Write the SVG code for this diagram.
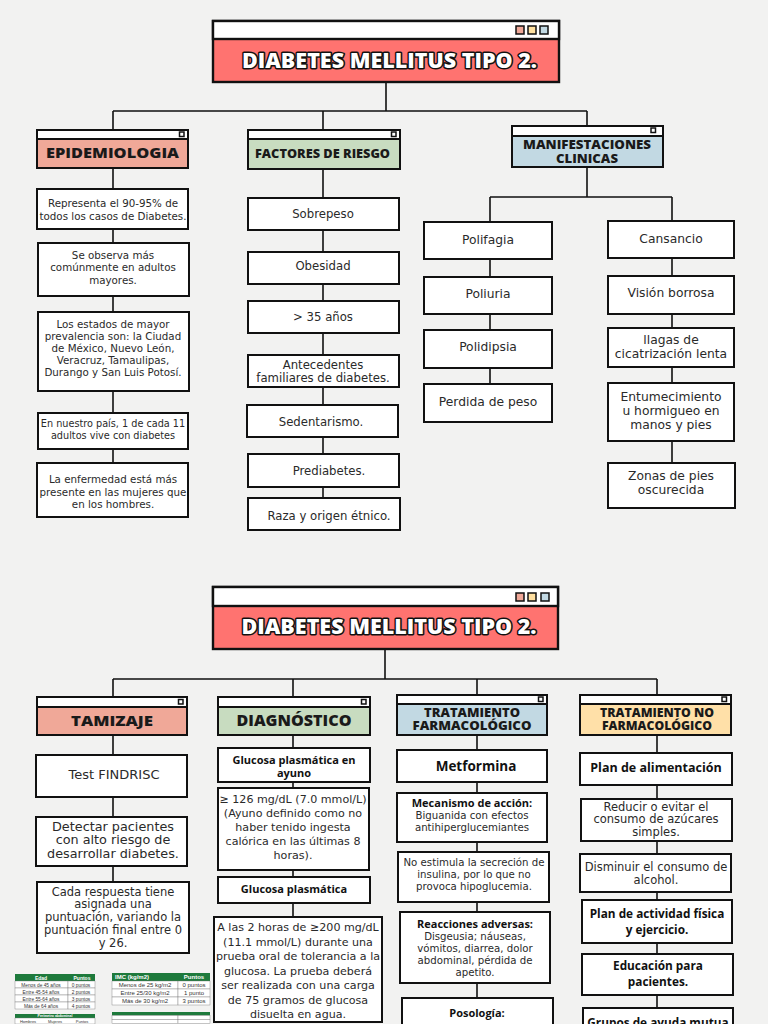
<svg xmlns="http://www.w3.org/2000/svg" width="768" height="1024" viewBox="0 0 768 1024">
<defs>
<style>
.bg{fill:#f2f2f1}
.b{fill:#fff;stroke:#111;stroke-width:2}
.hb{stroke:#111;stroke-width:2}
.sq{fill:#fff;stroke:#111;stroke-width:1.5}
.c{fill:none;stroke:#111;stroke-width:1.6}
.t{font-family:"DejaVu Sans","Liberation Sans",sans-serif;fill:#2a2a2a;text-anchor:middle}
.bd{font-family:"Open Sans","Liberation Sans",sans-serif;font-weight:700;fill:#111}
.h{font-family:"Open Sans","Liberation Sans",sans-serif;font-weight:800;fill:#1a1a1a;text-anchor:middle}
.title{font-family:"Open Sans","Liberation Sans",sans-serif;font-weight:800;font-size:21px;fill:#fff;stroke:#111;stroke-width:3;paint-order:stroke;stroke-linejoin:round;text-anchor:middle}
.tt{font-family:"Liberation Sans",sans-serif;fill:#333;text-anchor:middle}
.th{font-family:"Liberation Sans",sans-serif;font-weight:700;fill:#fff;text-anchor:middle}
.tb{fill:#fff;stroke:#777;stroke-width:0.4}
</style>
</defs>
<rect class="bg" x="0" y="0" width="768" height="1024"/>

<g id="connectors">
<path class="c" d="M386 82V111M113 111H587M113 111V130M323 111V130M587 111V126"/>
<path class="c" d="M113 168V463"/>
<path class="c" d="M323 169V498"/>
<path class="c" d="M587 167V197M490 197H672M490 197V384M672 197V463"/>
<path class="c" d="M385 649V679M113 679H657M113 679V882M293 679V917M477 679V998M657 679V1008"/>
</g>

<g id="title1">
<rect x="213" y="21" width="346" height="61" fill="#ff7370" stroke="#111" stroke-width="2.4"/>
<rect x="213" y="21" width="346" height="18" fill="#fff" stroke="#111" stroke-width="2.4"/>
<rect x="516" y="26" width="8" height="8" fill="#f0a898" stroke="#111" stroke-width="1.5"/>
<rect x="528" y="26" width="8" height="8" fill="#ffe0a0" stroke="#111" stroke-width="1.5"/>
<rect x="540" y="26" width="8" height="8" fill="#c2d9e3" stroke="#111" stroke-width="1.5"/>
<text class="title" x="389.5" y="68" textLength="295" lengthAdjust="spacingAndGlyphs">DIABETES MELLITUS TIPO 2.</text>
</g>

<g id="epidemiologia">
<rect class="hb" x="37" y="130" width="151" height="38" fill="#f0a898"/>
<rect class="hb" x="37" y="130" width="151" height="9" fill="#fff"/>
<rect class="sq" x="179.5" y="132" width="4.5" height="4.5"/>
<text class="h" x="112.5" y="158" style="font-size:14.5px" textLength="133" lengthAdjust="spacingAndGlyphs">EPIDEMIOLOGIA</text>
</g>
<g id="epi1"><rect class="b" x="37" y="189" width="151" height="40"/>
<text class="t" style="font-size:10.3px" x="113" y="207">Representa el 90-95% de<tspan x="113" y="220">todos los casos de Diabetes.</tspan></text></g>
<g id="epi2"><rect class="b" x="38" y="243" width="151" height="53"/>
<text class="t" style="font-size:10.3px" x="113" y="259">Se observa más<tspan x="113" y="271">comúnmente en adultos</tspan><tspan x="113" y="284">mayores.</tspan></text></g>
<g id="epi3"><rect class="b" x="38" y="312" width="151" height="79"/>
<text class="t" style="font-size:10.3px" x="113" y="328">Los estados de mayor<tspan x="113" y="340">prevalencia son: la Ciudad</tspan><tspan x="113" y="352">de México, Nuevo León,</tspan><tspan x="113" y="364">Veracruz, Tamaulipas,</tspan><tspan x="113" y="376">Durango y San Luis Potosí.</tspan></text></g>
<g id="epi4"><rect class="b" x="38" y="413" width="150" height="36"/>
<text class="t" style="font-size:9.7px" x="113" y="427">En nuestro país, 1 de cada 11<tspan x="113" y="439">adultos vive con diabetes</tspan></text></g>
<g id="epi5"><rect class="b" x="37" y="463" width="151" height="54"/>
<text class="t" style="font-size:10.3px" x="113" y="483">La enfermedad está más<tspan x="113" y="496">presente en las mujeres que</tspan><tspan x="113" y="508">en los hombres.</tspan></text></g>

<g id="factores">
<rect class="hb" x="248" y="130" width="152" height="39" fill="#c8dcc0"/>
<rect class="hb" x="248" y="130" width="152" height="9" fill="#fff"/>
<rect class="sq" x="391.5" y="132" width="4.5" height="4.5"/>
<text class="h" x="322.5" y="158" style="font-size:11.5px" textLength="135" lengthAdjust="spacingAndGlyphs">FACTORES DE RIESGO</text>
</g>
<g id="fr1"><rect class="b" x="248" y="198" width="151" height="32"/><text class="t" style="font-size:11.7px" x="323" y="218">Sobrepeso</text></g>
<g id="fr2"><rect class="b" x="248" y="252" width="151" height="32"/><text class="t" style="font-size:11.7px" x="323" y="270">Obesidad</text></g>
<g id="fr3"><rect class="b" x="248" y="301" width="151" height="32"/><text class="t" style="font-size:11.7px" x="323" y="321">&gt; 35 años</text></g>
<g id="fr4"><rect class="b" x="248" y="355" width="151" height="32"/><text class="t" style="font-size:11.7px" x="323" y="369">Antecedentes<tspan x="323" y="382">familiares de diabetes.</tspan></text></g>
<g id="fr5"><rect class="b" x="247" y="405" width="151" height="32"/><text class="t" style="font-size:11.7px" x="321" y="426">Sedentarismo.</text></g>
<g id="fr6"><rect class="b" x="248" y="454" width="151" height="33"/><text class="t" style="font-size:11.7px" x="329" y="475">Prediabetes.</text></g>
<g id="fr7"><rect class="b" x="248" y="498" width="152" height="32"/><text class="t" style="font-size:11.7px" x="329" y="520">Raza y origen étnico.</text></g>

<g id="manifestaciones">
<rect class="hb" x="512" y="126" width="151" height="41" fill="#c2d9e3"/>
<rect class="hb" x="512" y="126" width="151" height="10" fill="#fff"/>
<rect class="sq" x="651" y="128" width="4.5" height="4.5"/>
<text class="h" style="font-size:12.5px"><tspan x="587" y="149" textLength="128" lengthAdjust="spacingAndGlyphs">MANIFESTACIONES</tspan><tspan x="587" y="163" textLength="62" lengthAdjust="spacingAndGlyphs">CLINICAS</tspan></text>
</g>
<g id="m1"><rect class="b" x="424" y="222" width="128" height="37"/><text class="t" style="font-size:12.3px" x="488" y="244">Polifagia</text></g>
<g id="m2"><rect class="b" x="424" y="277" width="128" height="37"/><text class="t" style="font-size:12.3px" x="488" y="298">Poliuria</text></g>
<g id="m3"><rect class="b" x="424" y="330" width="128" height="38"/><text class="t" style="font-size:12.3px" x="488" y="351">Polidipsia</text></g>
<g id="m4"><rect class="b" x="424" y="384" width="128" height="38"/><text class="t" style="font-size:12.3px" x="488" y="406">Perdida de peso</text></g>
<g id="m5"><rect class="b" x="608" y="221" width="126" height="37"/><text class="t" style="font-size:12.3px" x="671" y="243">Cansancio</text></g>
<g id="m6"><rect class="b" x="608" y="276" width="126" height="38"/><text class="t" style="font-size:12.3px" x="671" y="297">Visión borrosa</text></g>
<g id="m7"><rect class="b" x="608" y="328" width="126" height="39"/><text class="t" style="font-size:12.3px" x="671" y="344">llagas de<tspan x="671" y="358">cicatrización lenta</tspan></text></g>
<g id="m8"><rect class="b" x="608" y="383" width="126" height="58"/><text class="t" style="font-size:12.3px" x="671" y="401">Entumecimiento<tspan x="671" y="415">u hormigueo en</tspan><tspan x="671" y="429">manos y pies</tspan></text></g>
<g id="m9"><rect class="b" x="608" y="463" width="127" height="45"/><text class="t" style="font-size:12.3px" x="671" y="480">Zonas de pies<tspan x="671" y="494">oscurecida</tspan></text></g>

<g id="title2">
<rect x="213" y="587" width="345" height="62" fill="#ff7370" stroke="#111" stroke-width="2.4"/>
<rect x="213" y="587" width="345" height="19" fill="#fff" stroke="#111" stroke-width="2.4"/>
<rect x="516" y="593" width="8" height="8" fill="#f0a898" stroke="#111" stroke-width="1.5"/>
<rect x="528" y="593" width="8" height="8" fill="#ffe0a0" stroke="#111" stroke-width="1.5"/>
<rect x="541" y="593" width="8" height="8" fill="#c2d9e3" stroke="#111" stroke-width="1.5"/>
<text class="title" x="389" y="634" textLength="295" lengthAdjust="spacingAndGlyphs">DIABETES MELLITUS TIPO 2.</text>
</g>

<g id="tamizaje">
<rect class="hb" x="37" y="697" width="150" height="38" fill="#f0a898"/>
<rect class="hb" x="37" y="697" width="150" height="10" fill="#fff"/>
<rect class="sq" x="178.5" y="699.5" width="4.5" height="4.5"/>
<text class="h" x="112" y="726" style="font-size:14.5px" textLength="82" lengthAdjust="spacingAndGlyphs">TAMIZAJE</text>
</g>
<g id="tz1"><rect class="b" x="36" y="755" width="151" height="42"/><text class="t" style="font-size:13px" x="114" y="779">Test FINDRISC</text></g>
<g id="tz2"><rect class="b" x="36" y="817" width="151" height="49"/><text class="t" style="font-size:12.8px" x="113" y="831">Detectar pacientes<tspan x="113" y="844">con alto riesgo de</tspan><tspan x="113" y="858">desarrollar diabetes.</tspan></text></g>
<g id="tz3"><rect class="b" x="37" y="882" width="152" height="71"/><text class="t" style="font-size:11.5px" x="113" y="896">Cada respuesta tiene<tspan x="113" y="908">asignada una</tspan><tspan x="113" y="921">puntuación, variando la</tspan><tspan x="113" y="934">puntuación final entre 0</tspan><tspan x="113" y="947">y 26.</tspan></text></g>

<g id="diagnostico">
<rect class="hb" x="218" y="697" width="152" height="38" fill="#c8dcc0"/>
<rect class="hb" x="218" y="697" width="152" height="10" fill="#fff"/>
<rect class="sq" x="361.5" y="699.5" width="4.5" height="4.5"/>
<text class="h" x="294" y="726" style="font-size:15px" textLength="115" lengthAdjust="spacingAndGlyphs">DIAGNÓSTICO</text>
</g>
<g id="dg1"><rect class="b" x="218" y="748" width="152" height="34"/><text class="t bd" style="font-size:11px" x="294" y="764">Glucosa plasmática en<tspan x="294" y="777">ayuno</tspan></text></g>
<g id="dg2"><rect class="b" x="218" y="788" width="151" height="82"/><text class="t" style="font-size:11.1px" x="293" y="803">≥ 126 mg/dL (7.0 mmol/L)<tspan x="293" y="817">(Ayuno definido como no</tspan><tspan x="293" y="831">haber tenido ingesta</tspan><tspan x="293" y="845">calórica en las últimas 8</tspan><tspan x="293" y="859">horas).</tspan></text></g>
<g id="dg3"><rect class="b" x="218" y="877" width="152" height="26"/><text class="t bd" style="font-size:11px" x="294" y="893">Glucosa plasmática</text></g>
<g id="dg4"><rect class="b" x="214" y="917" width="168" height="105"/><text class="t" style="font-size:11.1px" x="298" y="931">A las 2 horas de ≥200 mg/dL<tspan x="298" y="946">(11.1 mmol/L) durante una</tspan><tspan x="298" y="960">prueba oral de tolerancia a la</tspan><tspan x="298" y="975">glucosa. La prueba deberá</tspan><tspan x="298" y="989">ser realizada con una carga</tspan><tspan x="298" y="1004">de 75 gramos de glucosa</tspan><tspan x="298" y="1018">disuelta en agua.</tspan></text></g>

<g id="farmacologico">
<rect class="hb" x="397" y="695" width="150" height="40" fill="#c2d9e3"/>
<rect class="hb" x="397" y="695" width="150" height="9" fill="#fff"/>
<rect class="sq" x="538.5" y="697" width="4.5" height="4.5"/>
<text class="h" style="font-size:12.5px"><tspan x="472" y="717" textLength="96" lengthAdjust="spacingAndGlyphs">TRATAMIENTO</tspan><tspan x="472" y="730" textLength="119" lengthAdjust="spacingAndGlyphs">FARMACOLÓGICO</tspan></text>
</g>
<g id="tf1"><rect class="b" x="397" y="750" width="150" height="32"/><text class="t bd" style="font-size:13.5px" x="476" y="771">Metformina</text></g>
<g id="tf2"><rect class="b" x="397" y="793" width="150" height="49"/><text class="t" style="font-size:10.2px" x="472" y="807"><tspan class="bd" style="font-size:11px">Mecanismo de acción:</tspan><tspan x="472" y="819">Biguanida con efectos</tspan><tspan x="472" y="831">antihiperglucemiantes</tspan></text></g>
<g id="tf3"><rect class="b" x="398" y="852" width="151" height="50"/><text class="t" style="font-size:10.2px" x="474" y="866">No estimula la secreción de<tspan x="474" y="878">insulina, por lo que no</tspan><tspan x="474" y="890">provoca hipoglucemia.</tspan></text></g>
<g id="tf4"><rect class="b" x="400" y="912" width="150" height="71"/><text class="t" style="font-size:10.2px" x="475" y="928"><tspan class="bd" style="font-size:11px">Reacciones adversas:</tspan><tspan x="475" y="940">Disgeusia; náuseas,</tspan><tspan x="475" y="952">vómitos, diarrea, dolor</tspan><tspan x="475" y="964">abdominal, pérdida de</tspan><tspan x="475" y="976">apetito.</tspan></text></g>
<g id="tf5"><rect class="b" x="402" y="998" width="151" height="40"/><text class="t bd" style="font-size:11px" x="477" y="1017">Posología:</text></g>

<g id="nofarmacologico">
<rect class="hb" x="580" y="695" width="151" height="40" fill="#ffe0a8"/>
<rect class="hb" x="580" y="695" width="151" height="9" fill="#fff"/>
<rect class="sq" x="722" y="697" width="4.5" height="4.5"/>
<text class="h" style="font-size:11.5px"><tspan x="657" y="717" textLength="114" lengthAdjust="spacingAndGlyphs">TRATAMIENTO  NO</tspan><tspan x="657" y="730" textLength="110" lengthAdjust="spacingAndGlyphs">FARMACOLÓGICO</tspan></text>
</g>
<g id="nf1"><rect class="b" x="580" y="753" width="152" height="32"/><text class="t bd" style="font-size:12.5px" x="656" y="772">Plan de alimentación</text></g>
<g id="nf2"><rect class="b" x="581" y="799" width="151" height="42"/><text class="t" style="font-size:11.5px" x="656" y="811">Reducir o evitar el<tspan x="656" y="823">consumo de azúcares</tspan><tspan x="656" y="836">simples.</tspan></text></g>
<g id="nf3"><rect class="b" x="580" y="854" width="151" height="38"/><text class="t" style="font-size:11.5px" x="656" y="871">Disminuir el consumo de<tspan x="656" y="884">alcohol.</tspan></text></g>
<g id="nf4"><rect class="b" x="582" y="900" width="150" height="43"/><text class="t bd" style="font-size:11.8px" x="657" y="918">Plan de actividad física<tspan x="657" y="934">y ejercicio.</tspan></text></g>
<g id="nf5"><rect class="b" x="582" y="954" width="151" height="41"/><text class="t bd" style="font-size:11.8px" x="658" y="970">Educación para<tspan x="658" y="986">pacientes.</tspan></text></g>
<g id="nf6"><rect class="b" x="583" y="1008" width="150" height="30"/><text class="t bd" style="font-size:11.8px" x="658" y="1027">Grupos de ayuda mutua</text></g>

<g id="tabla-edad">
<rect x="15" y="974" width="80" height="7" fill="#1e7a3c"/>
<text class="th" style="font-size:5px" x="41" y="979.5">Edad</text><text class="th" style="font-size:5px" x="82" y="979.5">Puntos</text>
<rect class="tb" x="15" y="981" width="53" height="7"/><rect class="tb" x="68" y="981" width="27" height="7"/>
<rect class="tb" x="15" y="988" width="53" height="7"/><rect class="tb" x="68" y="988" width="27" height="7"/>
<rect class="tb" x="15" y="995" width="53" height="7"/><rect class="tb" x="68" y="995" width="27" height="7"/>
<rect class="tb" x="15" y="1002" width="53" height="7"/><rect class="tb" x="68" y="1002" width="27" height="7"/>
<text class="tt" style="font-size:4.8px" x="41" y="986.5">Menos de 45 años</text><text class="tt" style="font-size:4.8px" x="81" y="986.5">0 puntos</text>
<text class="tt" style="font-size:4.8px" x="41" y="993.5">Entre 45-54 años</text><text class="tt" style="font-size:4.8px" x="81" y="993.5">2 puntos</text>
<text class="tt" style="font-size:4.8px" x="41" y="1000.5">Entre 55-64 años</text><text class="tt" style="font-size:4.8px" x="81" y="1000.5">3 puntos</text>
<text class="tt" style="font-size:4.8px" x="41" y="1007.5">Más de 64 años</text><text class="tt" style="font-size:4.8px" x="81" y="1007.5">4 puntos</text>
</g>
<g id="tabla-imc">
<rect x="112" y="973" width="98" height="8" fill="#1e7a3c"/>
<text class="th" x="115" y="979" style="font-size:6px;text-anchor:start">IMC (kg/m2)</text><text class="th" style="font-size:6px" x="194" y="979">Puntos</text>
<rect class="tb" x="112" y="981" width="66" height="8"/><rect class="tb" x="178" y="981" width="32" height="8"/>
<rect class="tb" x="112" y="989" width="66" height="8"/><rect class="tb" x="178" y="989" width="32" height="8"/>
<rect class="tb" x="112" y="997" width="66" height="8"/><rect class="tb" x="178" y="997" width="32" height="8"/>
<text class="tt" style="font-size:6px" x="145" y="987">Menos de 25 kg/m2</text><text class="tt" style="font-size:6px" x="194" y="987">0 puntos</text>
<text class="tt" style="font-size:6px" x="145" y="995">Entre 25/30 kg/m2</text><text class="tt" style="font-size:6px" x="194" y="995">1 punto</text>
<text class="tt" style="font-size:6px" x="145" y="1003">Más de 30 kg/m2</text><text class="tt" style="font-size:6px" x="194" y="1003">3 puntos</text>
</g>
<g id="tabla-perimetro">
<rect x="15" y="1014" width="80" height="4" fill="#1e7a3c"/>
<text class="th" style="font-size:3.5px" x="55" y="1017.3">Perímetro abdominal</text>
<rect class="tb" x="15" y="1018" width="80" height="6"/>
<text class="tt" style="font-size:4px" x="28" y="1022.5">Hombres</text><text class="tt" style="font-size:4px" x="55" y="1022.5">Mujeres</text><text class="tt" style="font-size:4px" x="82" y="1022.5">Puntos</text>
</g>
<g id="tabla-4">
<rect x="112" y="1012" width="98" height="3.5" fill="#1e7a3c"/>
<rect class="tb" x="112" y="1015.5" width="66" height="4"/><rect class="tb" x="178" y="1015.5" width="32" height="4"/>
<rect class="tb" x="112" y="1019.5" width="66" height="4"/><rect class="tb" x="178" y="1019.5" width="32" height="4"/>
</g>
</svg>
